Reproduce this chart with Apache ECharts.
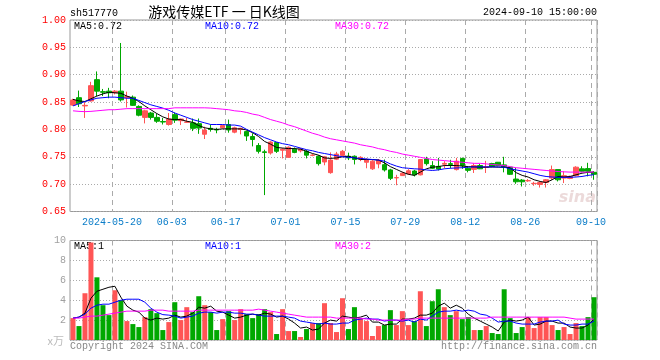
<!DOCTYPE html>
<html><head><meta charset="utf-8">
<script src="https://cdn.jsdelivr.net/npm/echarts@6/dist/echarts.min.js"></script>
<style>html,body{margin:0;padding:0;background:#fff}#c{width:660px;height:360px}</style>
</head><body><div id="c"></div>
<script>
const dates = ['2024-05-09','2024-05-10','2024-05-13','2024-05-14','2024-05-15','2024-05-16','2024-05-17','2024-05-20','2024-05-21','2024-05-22','2024-05-23','2024-05-24','2024-05-27','2024-05-28','2024-05-29','2024-05-30','2024-05-31',
'2024-06-03','2024-06-04','2024-06-05','2024-06-06','2024-06-07','2024-06-11','2024-06-12','2024-06-13','2024-06-14','2024-06-17','2024-06-18','2024-06-19','2024-06-20','2024-06-21','2024-06-24','2024-06-25','2024-06-26','2024-06-27','2024-06-28',
'2024-07-01','2024-07-02','2024-07-03','2024-07-04','2024-07-05','2024-07-08','2024-07-09','2024-07-10','2024-07-11','2024-07-12','2024-07-15','2024-07-16','2024-07-17','2024-07-18','2024-07-19','2024-07-22','2024-07-23','2024-07-24','2024-07-25','2024-07-26','2024-07-29','2024-07-30','2024-07-31',
'2024-08-01','2024-08-02','2024-08-05','2024-08-06','2024-08-07','2024-08-08','2024-08-09','2024-08-12','2024-08-13','2024-08-14','2024-08-15','2024-08-16','2024-08-19','2024-08-20','2024-08-21','2024-08-22','2024-08-23','2024-08-26','2024-08-27','2024-08-28','2024-08-29','2024-08-30',
'2024-09-02','2024-09-03','2024-09-04','2024-09-05','2024-09-06','2024-09-09','2024-09-10'];

const xTickDates = ['2024-05-20','2024-06-03','2024-06-17','2024-07-01','2024-07-15','2024-07-29','2024-08-12','2024-08-26','2024-09-10'];
const xTickLabels = ['2024-05-20','06-03','06-17','07-01','07-15','07-29','08-12','08-26','09-10'];

const opens = [0.8445,0.858,0.843,0.852,0.891,0.869,0.870,0.867,0.870,0.858,
0.859,0.842,0.822,0.830,0.822,0.8145,0.809,0.827,0.816,0.813,
0.812,0.8105,0.7912,0.802,0.800,0.803,0.809,0.795,0.800,0.796,
0.787,0.7706,0.759,0.757,0.776,0.762,0.749,0.764,0.761,0.760,
0.7525,0.751,0.7405,0.721,0.7456,0.7525,0.751,0.751,0.746,0.740,
0.728,0.737,0.7356,0.726,0.7115,0.7156,0.7187,0.724,0.717,0.746,
0.734,0.7325,0.7365,0.7375,0.7266,0.747,0.729,0.727,0.734,0.7305,
0.7377,0.740,0.7352,0.731,0.7093,0.7074,0.706,0.7010,0.6994,0.703,
0.7111,0.7266,0.711,0.7105,0.7155,0.728,0.7284,0.7216];
const closes = [0.8536,0.847,0.844,0.880,0.870,0.868,0.867,0.870,0.854,0.860,
0.844,0.826,0.834,0.822,0.815,0.8135,0.819,0.817,0.819,0.8137,
0.802,0.8025,0.7988,0.800,0.799,0.807,0.799,0.803,0.802,0.788,
0.7816,0.760,0.758,0.777,0.760,0.764,0.7675,0.758,0.764,0.753,
0.753,0.7375,0.750,0.744,0.755,0.760,0.748,0.745,0.749,0.744,
0.742,0.744,0.726,0.7106,0.712,0.720,0.7244,0.717,0.745,0.7375,
0.729,0.7275,0.738,0.736,0.742,0.734,0.7253,0.734,0.728,0.7315,
0.732,0.734,0.7315,0.718,0.7043,0.7043,0.7065,0.7015,0.703,0.708,
0.7266,0.708,0.7155,0.7142,0.731,0.7235,0.7235,0.718];
const lows = [0.843,0.841,0.821,0.851,0.861,0.861,0.857,0.864,0.851,0.840,
0.843,0.824,0.811,0.818,0.812,0.809,0.807,0.812,0.808,0.812,
0.797,0.792,0.7825,0.796,0.793,0.802,0.794,0.793,0.791,0.779,
0.769,0.756,0.680,0.754,0.757,0.747,0.748,0.7565,0.758,0.747,
0.751,0.734,0.7345,0.719,0.744,0.751,0.744,0.736,0.742,0.729,
0.726,0.729,0.723,0.7075,0.698,0.715,0.717,0.714,0.716,0.734,
0.7275,0.725,0.729,0.729,0.725,0.728,0.7216,0.7204,0.7275,0.7204,
0.731,0.7327,0.7216,0.7167,0.7006,0.6957,0.7043,0.697,0.6938,0.6938,
0.708,0.705,0.702,0.709,0.7142,0.7216,0.7142,0.708];
const highs = [0.856,0.871,0.850,0.887,0.906,0.874,0.876,0.872,0.958,0.869,
0.862,0.844,0.836,0.832,0.829,0.821,0.830,0.831,0.820,0.821,
0.820,0.820,0.805,0.809,0.803,0.8075,0.818,0.805,0.803,0.798,
0.793,0.775,0.763,0.7785,0.777,0.766,0.769,0.767,0.766,0.7625,
0.7555,0.753,0.7515,0.758,0.759,0.7625,0.7575,0.7525,0.751,0.7475,
0.744,0.746,0.745,0.728,0.717,0.7225,0.7275,0.726,0.746,0.750,
0.742,0.748,0.742,0.7445,0.748,0.7485,0.7327,0.7377,0.737,0.7426,
0.739,0.7405,0.750,0.733,0.7296,0.7093,0.7093,0.7043,0.705,0.7093,
0.734,0.7266,0.7235,0.7155,0.7327,0.7327,0.739,0.7235];

const ma5 = [0.855,0.852,0.851,0.856,0.861,0.865,0.868,0.867,0.866,0.861,
0.857,0.851,0.843,0.836,0.829,0.823,0.819,0.818,0.818,0.815,
0.813,0.807,0.803,0.801,0.800,0.801,0.801,0.801,0.801,0.799,
0.794,0.787,0.778,0.773,0.767,0.766,0.765,0.765,0.764,0.760,
0.756,0.753,0.748,0.747,0.748,0.750,0.751,0.748,0.745,0.745,
0.745,0.744,0.739,0.732,0.727,0.722,0.718,0.716,0.722,0.728,
0.731,0.732,0.734,0.734,0.734,0.733,0.732,0.7315,0.731,0.731,
0.7315,0.731,0.731,0.7296,0.721,0.716,0.713,0.708,0.705,0.703,
0.708,0.714,0.713,0.714,0.717,0.720,0.7216,0.722];
const ma10 = [0.843,0.847,0.851,0.854,0.857,0.858,0.859,0.859,0.858,0.857,
0.857,0.853,0.849,0.845,0.842,0.839,0.835,0.830,0.826,0.822,
0.818,0.815,0.812,0.809,0.809,0.809,0.808,0.808,0.806,0.800,
0.795,0.790,0.785,0.781,0.777,0.774,0.772,0.769,0.766,0.763,
0.761,0.758,0.756,0.754,0.752,0.750,0.749,0.748,0.747,0.746,
0.745,0.744,0.742,0.737,0.733,0.730,0.729,0.728,0.7275,0.726,
0.725,0.726,0.728,0.729,0.7296,0.730,0.731,0.7315,0.7315,0.7315,
0.7315,0.7315,0.731,0.728,0.726,0.724,0.722,0.719,0.716,0.714,
0.713,0.7125,0.7124,0.7125,0.713,0.714,0.716,0.7173];
const ma30 = [0.834,0.833,0.8325,0.833,0.834,0.835,0.836,0.836,0.837,0.838,
0.838,0.838,0.838,0.838,0.838,0.838,0.838,0.8395,0.8395,0.8395,
0.8395,0.8395,0.8395,0.839,0.838,0.837,0.836,0.834,0.833,0.831,
0.828,0.826,0.822,0.818,0.815,0.812,0.808,0.805,0.801,0.797,
0.793,0.790,0.786,0.783,0.781,0.779,0.777,0.775,0.772,0.770,
0.768,0.765,0.763,0.760,0.758,0.755,0.753,0.751,0.749,0.747,
0.745,0.744,0.743,0.742,0.741,0.740,0.739,0.738,0.738,0.737,
0.736,0.735,0.734,0.732,0.730,0.729,0.728,0.727,0.726,0.725,
0.724,0.723,0.7225,0.722,0.722,0.722,0.722,0.722];

const volumes = [2.2,1.4,4.7,9.8,6.3,3.5,2.5,5.0,4.0,1.9,
1.6,1.3,2.3,3.1,2.7,1.0,1.8,3.8,2.0,3.3,
2.8,4.4,3.5,2.8,1.0,2.1,2.9,2.0,3.1,2.6,
2.2,2.6,3.1,2.8,0.6,3.1,0.9,0.9,0.3,1.1,
1.7,1.7,3.7,1.7,0.8,4.2,1.1,3.3,2.2,1.9,
0.4,1.4,1.5,3.0,1.5,2.9,1.5,1.9,4.9,1.4,
3.9,5.1,3.3,2.5,2.9,2.1,2.3,1.0,1.0,1.4,
0.7,0.6,5.1,2.2,0.7,1.3,2.3,1.2,2.3,2.3,
1.5,1.0,1.3,0.6,1.7,1.4,2.3,4.3];
const volMa5 = [2.2,2.3,2.7,4.2,4.9,5.1,5.3,5.4,4.3,3.4,
3.0,2.8,2.2,2.0,2.2,2.1,2.2,2.5,2.3,2.4,
2.7,3.3,3.2,3.4,2.9,2.8,2.5,2.2,2.3,2.5,
2.6,2.5,2.7,2.6,2.3,2.4,2.1,1.7,1.2,1.3,
1.0,1.1,1.7,2.0,1.9,2.4,2.3,2.2,2.3,2.5,
1.8,1.8,1.5,1.6,1.6,2.1,2.1,2.2,2.5,2.5,
2.7,3.4,3.7,3.2,3.5,3.2,2.6,2.2,1.9,1.6,
1.3,0.9,1.8,2.0,1.9,2.0,2.3,1.5,1.6,1.9,
1.9,1.7,1.7,1.3,1.2,1.2,1.5,2.1];
const volMa10 = [2.2,2.3,2.6,3.2,3.5,3.6,3.6,3.8,4.0,4.1,
4.1,4.1,3.8,3.2,2.8,2.55,2.5,2.4,2.2,2.3,
2.4,2.7,2.8,2.8,2.7,2.8,2.8,2.7,2.7,2.6,
2.6,2.5,2.4,2.4,2.4,2.4,2.3,2.2,1.9,1.8,
1.7,1.6,1.7,1.6,1.6,1.7,1.7,2.0,2.1,2.2,
2.1,2.1,1.9,2.0,2.0,1.9,2.0,1.8,2.1,2.0,
2.4,2.8,2.9,2.9,3.0,2.9,3.0,2.9,2.6,2.5,
2.2,1.8,1.9,1.9,1.7,1.6,1.6,1.6,1.8,1.9,
1.9,2.0,1.6,1.5,1.5,1.6,1.6,1.9];
const volMa30 = [2.2,2.2,2.3,2.4,2.4,2.5,2.6,2.7,2.8,2.9,
2.9,2.9,2.9,3.0,3.0,3.0,2.9,2.9,2.9,2.9,
2.9,3.0,3.0,3.0,3.0,3.0,3.0,3.0,3.0,3.0,
3.0,3.1,3.0,2.9,2.8,2.7,2.6,2.5,2.4,2.3,
2.3,2.3,2.3,2.3,2.2,2.2,2.2,2.2,2.2,2.1,
2.1,2.0,2.0,2.0,2.0,2.0,2.1,2.1,2.2,2.2,
2.2,2.2,2.2,2.2,2.2,2.2,2.2,2.2,2.2,2.2,
2.3,2.3,2.3,2.3,2.3,2.3,2.3,2.3,2.3,2.3,
2.3,2.3,2.3,2.2,2.1,2.1,2.1,2.1];

const priceAxisMin = 0.65, priceAxisMax = 1.00, priceAxisStep = 0.05;
const volAxisMin = 0, volAxisMax = 10, volAxisStep = 2;

const UP = '#ff5555', DOWN = '#00a800';
const MONO = '"Liberation Mono","DejaVu Sans Mono",monospace';
const GRIDC = '#aaaaaa';

const chart = echarts.init(document.getElementById('c'), null, {renderer: 'canvas'});
const ohlc = dates.map((d, i) => [opens[i], closes[i], lows[i], highs[i]]);
const volData = volumes.map((v, i) => ({value: v, itemStyle: {color: closes[i] >= opens[i] ? UP : DOWN}}));
const isTick = (i) => xTickDates.indexOf(dates[i]) >= 0;
const labelOf = (v) => xTickLabels[xTickDates.indexOf(v)];
const splitX = {show: true, interval: (i) => isTick(i), lineStyle: {color: GRIDC, type: [5, 4], width: 1}};
const splitY = {show: true, lineStyle: {color: GRIDC, type: [1, 2], width: 1}};
const lineS = (name, data, color, xi, yi) => ({
  name, type: 'line', data, xAxisIndex: xi, yAxisIndex: yi, symbol: 'none', showSymbol: false,
  lineStyle: {color, width: 1}, itemStyle: {color}, z: 5, silent: true
});
const txt = (text, x, y, color, align, font) => ({
  type: 'text', x, y, silent: true,
  style: {text, fill: color, align: align || 'left', verticalAlign: 'middle', font: font || ('10px ' + MONO)}
});

chart.setOption({
  animation: false,
  backgroundColor: '#fff',
  grid: [
    {left: 70, top: 20, width: 527, height: 191.5, show: true, borderColor: '#999', borderWidth: 1, backgroundColor: 'transparent'},
    {left: 70, top: 240.5, width: 527, height: 99.5, show: true, borderColor: '#999', borderWidth: 1, backgroundColor: 'transparent'}
  ],
  xAxis: [
    {type: 'category', data: dates, gridIndex: 0, boundaryGap: true,
     axisLine: {show: false}, axisTick: {show: false},
     axisLabel: {interval: (i) => isTick(i), formatter: labelOf, color: '#0a7cc8', fontFamily: MONO, fontSize: 10, margin: 6, padding: [0, 6, 0, 0]},
     splitLine: splitX},
    {type: 'category', data: dates, gridIndex: 1, boundaryGap: true,
     axisLine: {show: false}, axisTick: {show: false}, axisLabel: {show: false}, splitLine: splitX}
  ],
  yAxis: [
    {type: 'value', gridIndex: 0, min: priceAxisMin, max: priceAxisMax, interval: priceAxisStep, scale: true,
     axisLine: {show: false}, axisTick: {show: false},
     axisLabel: {color: '#ff0000', fontFamily: MONO, fontSize: 10, margin: 4, formatter: (v) => v.toFixed(2)},
     splitLine: splitY},
    {type: 'value', gridIndex: 1, min: volAxisMin, max: volAxisMax, interval: volAxisStep,
     axisLine: {show: false}, axisTick: {show: false},
     axisLabel: {color: '#a0a0a0', fontFamily: MONO, fontSize: 10, margin: 4, formatter: (v) => v === 0 ? '' : String(v)},
     splitLine: splitY}
  ],
  series: [
    {name: 'K', type: 'candlestick', data: ohlc, xAxisIndex: 0, yAxisIndex: 0, barWidth: 5, silent: true,
     itemStyle: {color: UP, color0: DOWN, borderColor: UP, borderColor0: DOWN, borderWidth: 1}},
    lineS('MA5', ma5, '#000000', 0, 0),
    lineS('MA10', ma10, '#0000ff', 0, 0),
    lineS('MA30', ma30, '#ff00ff', 0, 0),
    {name: 'VOL', type: 'bar', data: volData, xAxisIndex: 1, yAxisIndex: 1, barWidth: 5, silent: true},
    lineS('VMA5', volMa5, '#000000', 1, 1),
    lineS('VMA10', volMa10, '#0000ff', 1, 1),
    lineS('VMA30', volMa30, '#ff00ff', 1, 1)
  ],
  graphic: [
    txt('sh517770', 70, 13, '#000'),
    txt('游戏传媒ETF 一 日K线图', 224, 12, '#000', 'center', '14px "Noto Sans CJK SC", sans-serif'),
    txt('2024-09-10 15:00:00', 597, 12, '#000', 'right'),
    txt('MA5:0.72', 74, 26, '#000'),
    txt('MA10:0.72', 205, 26, '#0000ff'),
    txt('MA30:0.72', 335, 26, '#ff00ff'),
    txt('MA5:1', 74, 246, '#000'),
    txt('MA10:1', 205, 246, '#0000ff'),
    txt('MA30:2', 335, 246, '#ff00ff'),
    txt('x万', 64, 341, '#bbbbbb', 'right', '11px "Noto Sans CJK SC", sans-serif'),
    txt('Copyright 2024 SINA.COM', 70, 346, '#888888'),
    txt('http://finance.sina.com.cn', 597, 346, '#888888', 'right'),
    txt('sina', 596, 198, 'rgba(200,150,150,0.35)', 'right', 'italic bold 16px "DejaVu Sans", sans-serif')
  ]
});
</script></body></html>
